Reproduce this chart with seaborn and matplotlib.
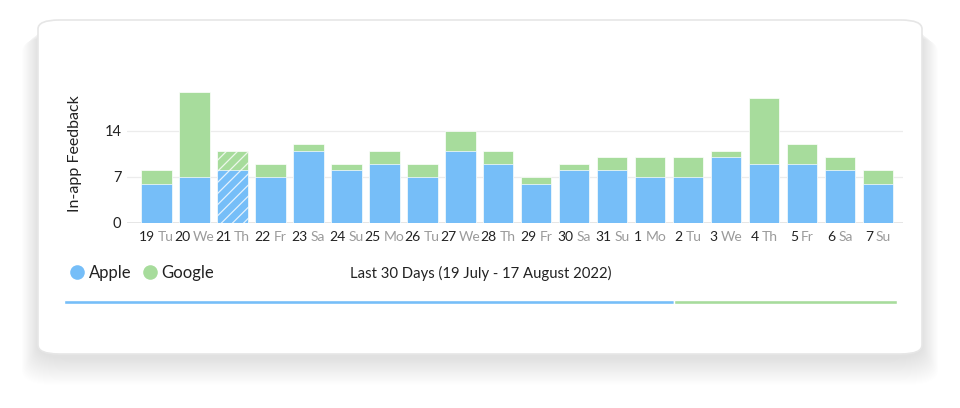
import numpy as np
import pandas as pd
import matplotlib
matplotlib.use("Agg")
import matplotlib.pyplot as plt
import seaborn as sns
from matplotlib.patches import FancyBboxPatch
from matplotlib.lines import Line2D

# data
days = ["19", "20", "21", "22", "23", "24", "25", "26", "27", "28",
        "29", "30", "31", "1", "2", "3", "4", "5", "6", "7"]
weekdays = ["Tu", "We", "Th", "Fr", "Sa", "Su", "Mo", "Tu", "We", "Th",
            "Fr", "Sa", "Su", "Mo", "Tu", "We", "Th", "Fr", "Sa", "Su"]
apple = [6, 7, 8, 7, 11, 8, 9, 7, 11, 9, 6, 8, 8, 7, 7, 10, 9, 9, 8, 6]
google = [2, 13, 3, 2, 1, 1, 2, 2, 3, 2, 1, 1, 2, 3, 3, 1, 10, 3, 2, 2]
yticks = [0, 7, 14]
hatched_day = 2

BLUE = "#76BEF8"
GREEN = "#A7DC9C"

sns.set_style("white")
plt.rcParams["font.family"] = ["Lato", "DejaVu Sans"]
plt.rcParams["hatch.color"] = "white"
plt.rcParams["hatch.linewidth"] = 0.9

df = pd.DataFrame({"day": [f"{d} {w}" for d, w in zip(days, weekdays)],
                   "apple": apple, "google": google})
df["total"] = df["apple"] + df["google"]

fig = plt.figure(figsize=(9.6, 4.08), dpi=100)
W, H = 960, 408

# card with a soft shadow (many faint layers)
for i in range(1, 31):
    grow = i * 0.9
    sh = FancyBboxPatch(((38 - grow * 0.6) / W, (408 - 354 - 4 - grow) / H),
                        (884 + 1.2 * grow) / W, (334 + grow * 0.5) / H,
                        boxstyle="round,pad=0,rounding_size=0.035",
                        transform=fig.transFigure, facecolor="#000000",
                        edgecolor="none", alpha=0.0026, zorder=0)
    fig.patches.append(sh)
card = FancyBboxPatch((38 / W, (408 - 354) / H), 884 / W, 334 / H,
                      boxstyle="round,pad=0,rounding_size=0.022",
                      transform=fig.transFigure, facecolor="white",
                      edgecolor="#e6e6e6", linewidth=1.2, zorder=1)
fig.patches.append(card)

ax = fig.add_axes([127 / W, (408 - 223) / H, (903 - 127) / W, 138 / H])
ax.set_zorder(2)
ax.patch.set_alpha(0)

sns.barplot(data=df, x="day", y="total", color=GREEN, saturation=1,
            width=0.8, edgecolor="white", linewidth=0.6, ax=ax)
sns.barplot(data=df, x="day", y="apple", color=BLUE, saturation=1,
            width=0.8, edgecolor="white", linewidth=0.6, ax=ax)

n = len(days)
for k, p in enumerate(ax.patches):
    if k % n == hatched_day:
        p.set_hatch("///")
    p.set_edgecolor((1, 1, 1, 0.8))

ax.set_xlim(-0.78, n - 1 + 0.66)
ax.set_ylim(0, 21)
ax.set_yticks(yticks)
ax.set_yticklabels([str(t) for t in yticks], fontsize=10.5, color="#222222")
ax.tick_params(axis="y", length=0, pad=4)
ax.tick_params(axis="x", length=3, color="#d8d8d8", width=0.8, labelbottom=False)
ax.set_xlabel("")
ax.set_ylabel("In-app Feedback", fontsize=11.5, color="#222222", labelpad=16)
ax.yaxis.grid(True, color="#ececec", linewidth=0.9)
ax.set_axisbelow(True)
sns.despine(ax=ax, left=True, top=True, right=True, bottom=True)
ax.axhline(0, color="#e2e2e2", linewidth=1.2, zorder=0.5)

# two-tone x labels: day number dark, weekday gray
fig.canvas.draw()
renderer = fig.canvas.get_renderer()
label_y = 237
for i, (d, w) in enumerate(zip(days, weekdays)):
    t1 = fig.text(0, 0, d, fontsize=10, color="#222222", va="center", ha="left")
    t2 = fig.text(0, 0, w, fontsize=10, color="#9a9a9a", va="center", ha="left")
    w1 = t1.get_window_extent(renderer).width
    w2 = t2.get_window_extent(renderer).width
    gap = 3
    cx = ax.transData.transform((i, 0))[0]
    x0 = cx - (w1 + gap + w2) / 2
    t1.set_position((x0 / W, (H - label_y) / H))
    t2.set_position(((x0 + w1 + gap) / W, (H - label_y) / H))

# legend
handles = [Line2D([], [], marker="o", linestyle="none", markersize=10.5,
                  markerfacecolor=BLUE, markeredgecolor="none"),
           Line2D([], [], marker="o", linestyle="none", markersize=10.5,
                  markerfacecolor=GREEN, markeredgecolor="none")]
fig.legend(handles, ["Apple", "Google"], loc="center left",
           bbox_to_anchor=(52 / W, (H - 273) / H), ncol=2, frameon=False,
           fontsize=12, handletextpad=0.1, columnspacing=0.5,
           handlelength=1.2, labelcolor="#222222")
fig.text(481 / W, (H - 273) / H, "Last 30 Days (19 July - 17 August 2022)",
         fontsize=10.7, color="#222222", ha="center", va="center")

# share bar at the bottom
bx = fig.add_axes([64 / W, (H - 304) / H, (897 - 64) / W, 4 / H])
tot_a, tot_g = sum(apple), sum(google)
bx.barh([0], [tot_a], color=BLUE, height=1)
bx.barh([0], [tot_g], left=[tot_a], color=GREEN, height=1)
bx.set_xlim(0, tot_a + tot_g)
bx.set_ylim(-0.5, 0.5)
bx.axis("off")
bx.set_zorder(2)

fig.savefig("out.png", dpi=100)
